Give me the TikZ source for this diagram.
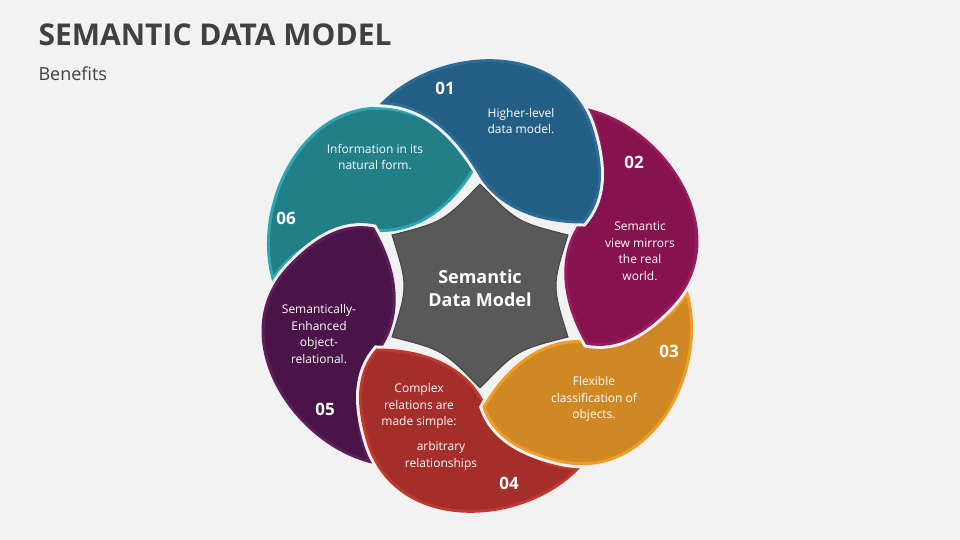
\documentclass[tikz,border=0pt]{standalone}
\usepackage{fontspec}
\setmainfont{Open Sans}
\begin{document}
\begin{tikzpicture}[x=1pt,y=-1pt,
  ptxt/.style={text=white,font=\fontsize{12}{16.5}\selectfont,align=center},
  pnum/.style={text=white,font=\fontsize{17}{20}\selectfont\bfseries}]
\fill[fill={rgb,255:red,242;green,242;blue,242}] (0,0) rectangle (960,540);
\useasboundingbox (0,0) rectangle (960,540);
\definecolor{bg}{RGB}{242,242,242}
\definecolor{f1}{RGB}{35,94,132}\definecolor{b1}{RGB}{44,108,150}
\definecolor{f2}{RGB}{134,19,79}\definecolor{b2}{RGB}{152,27,91}
\definecolor{f3}{RGB}{208,136,36}\definecolor{b3}{RGB}{240,156,40}
\definecolor{f4}{RGB}{163,46,42}\definecolor{b4}{RGB}{192,57,43}
\definecolor{f5}{RGB}{74,20,72}\definecolor{b5}{RGB}{92,29,88}
\definecolor{f6}{RGB}{35,127,135}\definecolor{b6}{RGB}{44,166,176}
\def\petal{(383,103) .. controls (440,45) and (565,40) .. (592,130) .. controls (604,170) and (602,200) .. (583,222) .. controls (535,222) and (500,205) .. (482,178) .. controls (460,140) and (430,105) .. cycle}
\foreach \k/\c in {5/6,4/5,3/4,2/3,1/2,0/1}{
  \begin{scope}[rotate around={-60*\k:(480,286)}]
  \path[draw=bg,line width=9pt,fill=bg] \petal;
  \path[fill=f\c,draw=b\c,line width=3pt] \petal;
  \end{scope}}
\fill[fill={rgb,255:red,89;green,89;blue,89},draw={rgb,255:red,70;green,70;blue,70},line width=1pt]
 (480,184) .. controls (517,222) .. (568,235) .. controls (552,286) .. (568,337)
 .. controls (517,350) .. (480,388) .. controls (443,350) .. (392,337)
 .. controls (408,286) .. (392,235) .. controls (443,222) .. cycle;
\node[text=white,font=\fontsize{18}{23}\selectfont\bfseries,align=center] (c) at (480,288) {Semantic\\Data Model};
\node[anchor=west,text={rgb,255:red,64;green,64;blue,64},font=\fontsize{30}{32}\selectfont\bfseries] (t) at (35,35) {SEMANTIC DATA MODEL};
\node[anchor=west,text={rgb,255:red,64;green,64;blue,64},font=\fontsize{18}{20}\selectfont] (s) at (35,74) {Benefits};
\node[pnum] (n1) at (445,88) {01};
\node[ptxt] (t1) at (521,121) {Higher-level\\data model.};
\node[pnum] (n2) at (634,162) {02};
\node[ptxt] (t2) at (640,251) {Semantic\\view mirrors\\the real\\world.};
\node[pnum] (n3) at (669,351) {03};
\node[ptxt] (t3) at (594,399) {Flexible\\classification of\\objects.};
\node[pnum] (n4) at (509,483) {04};
\node[ptxt] (t4) at (419,406) {Complex\\relations are\\made simple:};
\node[ptxt] (t4b) at (441,456) {arbitrary\\relationships};
\node[pnum] (n5) at (325,409) {05};
\node[ptxt] (t5) at (319,334) {Semantically-\\Enhanced\\object-\\relational.};
\node[pnum] (n6) at (286,218) {06};
\node[ptxt] (t6) at (375,157) {Information in its\\natural form.};
\end{tikzpicture}
\end{document}
